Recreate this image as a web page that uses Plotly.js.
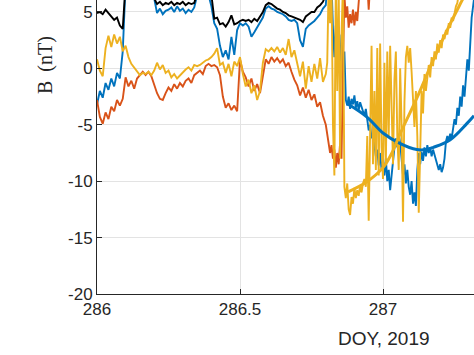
<!DOCTYPE html>
<html>
<head>
<meta charset="utf-8">
<script src="https://cdn.plot.ly/plotly-3.0.1.min.js"></script>
<style>html,body{margin:0;padding:0;background:#fff;}#plot{width:474px;height:355px;}</style>
</head>
<body>
<div id="plot"></div>
<script>
// Sampling positions (DOY): coarse grid before 286.80, finer grid after
const tA = []; for (let i = 0; i < 80; i++) tA.push(+(286 + i * 0.01).toFixed(3));
const tB = []; for (let i = 0; i < 105; i++) tB.push(+(286.8 + i * 0.005).toFixed(3));
const t = tA.concat(tB);

// Black series (|B|)
const blackA = [4.9,5.0,4.8,5.2,4.9,4.6,4.3,4.5,3.8,3.5,
  7.5,7.5,7.5,7.5,7.5,7.5,7.5,7.5,7.5,7.5,
  6.2,5.7,5.9,5.6,5.8,5.7,5.9,5.6,5.8,5.7,
  5.9,5.6,5.8,5.7,5.8,6.5,7.5,7.5,7.5,7.5,
  6.5,4.4,4.5,3.9,4.0,3.7,4.1,4.7,3.9,4.0,
  4.2,4.3,4.2,4.3,4.1,4.4,4.2,4.6,5.0,5.6,
  5.8,5.7,5.5,5.3,5.2,5.0,4.9,4.7,4.6,4.5,
  4.4,4.3,4.1,4.6,4.8,5.0,5.0,5.4,5.6,5.9];
const blackB = [6.5,7.5];

// Blue series
const blueA = [-3.2,-2.0,-2.6,-1.3,-1.9,-0.9,-1.6,-0.4,-0.9,1.5,
  7.5,7.5,7.5,7.5,7.5,7.5,7.5,7.5,7.5,7.5,
  6.2,4.9,5.3,4.8,5.1,5.2,5.4,5.0,5.5,5.1,
  5.3,4.9,5.2,5.0,5.4,6.5,7.5,7.5,7.5,6.5,
  5.5,4.0,3.5,2.0,1.0,1.6,0.8,2.8,1.2,3.4,
  4.0,3.8,4.0,3.7,2.8,3.2,3.6,4.0,4.5,5.3,
  5.5,5.3,5.2,5.0,4.9,4.8,4.6,4.3,4.2,4.3,
  4.0,2.5,1.9,3.5,3.8,4.0,4.2,4.5,4.8,5.3];
const blueB = [5.6,7.5,7.5,6.0,7.5,3.5,1.0,3.8,-0.3,2.5,
  0.5,3.0,-0.5,1.5,-2.8,-3.3,-2.5,-3.6,-2.7,-3.2,
  -2.4,-3.5,-2.9,-3.7,-3.0,-3.4,-3.8,-4.2,-3.6,-4.8,
  -5.5,-5.0,-6.2,-5.8,-7.0,-7.8,-7.2,-8.6,-7.5,-9.0,
  -8.2,-9.5,-8.0,-10.0,-9.0,-10.8,-9.5,-8.0,-7.0,-6.2,
  -7.0,-5.8,-6.6,-8.0,-9.5,-8.5,-10.2,-9.0,-10.5,-11.2,
  -10.0,-12.0,-11.0,-12.2,-9.0,-7.5,-8.5,-7.4,-8.2,-7.0,
  -7.8,-6.8,-7.5,-7.0,-7.8,-7.2,-7.6,-8.0,-8.4,-9.0,
  -8.5,-9.2,-8.8,-8.0,-6.5,-6.0,-6.4,-5.8,-6.2,-5.5,
  -4.5,-5.0,-3.5,-4.2,-2.5,-3.4,-1.5,-2.5,-0.5,0.8,
  -0.2,2.5,4.5,5.5,6.5];

// Orange series
const orangeA = [-2.8,-4.3,-4.9,-3.9,-4.5,-3.4,-3.8,-2.8,-3.3,-2.7,
  -0.8,-1.6,-1.1,-1.8,-0.9,-0.6,-0.3,-0.6,-0.3,-0.7,
  -1.5,-2.2,-2.7,-2.8,-2.2,-1.7,-2.0,-1.4,-1.8,-1.3,
  -1.6,-1.1,-0.9,-1.3,-0.6,-0.4,-0.2,-0.5,0.2,0.4,
  0.2,0.3,0.1,-0.6,-2.5,-3.5,-3.1,-3.7,-3.3,-3.8,
  0.8,-0.3,-0.8,-1.6,-0.9,-2.0,-1.4,-2.2,-0.5,0.8,
  0.4,1.0,0.6,0.9,0.5,0.8,0.2,0.5,-0.3,-1.0,
  -1.5,-2.4,-1.7,-2.6,-1.9,-2.8,-2.3,-3.4,-3.0,-4.2];
const orangeB = [-5.0,-6.0,-6.5,-7.5,-6.8,-8.0,-7.2,-8.8,-7.5,-8.5,
  -6.6,-8.0,0.0,6.5,4.5,5.5,3.6,4.8,4.0,5.2,
  3.8,5.0,4.2,6.0,7.5,7.5,7.5,7.5,7.5,7.5,5.2,7.5];

// Yellow series
const yellowA = [0.8,-0.2,-0.7,1.8,2.9,1.9,3.0,2.2,2.8,1.5,
  2.0,1.0,0.4,0.1,-0.3,-0.6,-0.4,-0.5,-0.3,-0.6,
  -0.2,0.5,-0.1,0.3,-0.4,-0.2,-0.8,-0.5,-0.9,-0.6,
  -0.4,-0.1,0.1,-0.2,0.3,0.2,0.3,0.5,0.7,0.8,
  1.0,1.3,1.8,0.3,0.5,-0.4,0.4,-0.7,0.6,0.2,
  1.0,-0.5,-1.6,-1.0,-2.2,-1.5,-2.8,-2.0,0.5,1.7,
  1.5,1.8,1.5,1.9,1.4,1.8,1.2,2.6,1.0,1.6,
  0.5,-0.7,0.6,-1.8,0.2,-1.2,0.4,-0.9,0.9,-1.2];
const yellowB = [-0.5,0.5,7.5,4.0,7.5,-5,-9.5,7.5,-2,7.5,
  -8,3,7.5,-10.5,-11.5,-10.2,-12.5,-13.0,-11.4,-12.0,
  -10.6,-11.5,-10.8,-11.3,-10.4,-11.0,-10.2,-9.8,-10.5,-6,
  -13.5,-4,2.0,-8.5,-2,-9,1.8,-9.5,2.2,-7,
  -9.8,0.5,-8.5,1.5,-6,2.0,-5,-8.5,-1,1.5,
  -6,-9,0,-5,-13.6,-3,1.0,2.0,0.5,1.8,
  -0.3,-2.5,-5.2,-2,-6,-12.8,-8,-2,-4,-0.5,
  -2,-1,0.3,-0.8,1.0,0.2,1.5,0.8,2.2,1.4,
  2.5,1.8,3.0,2.6,3.4,3.0,4.0,3.6,4.5,4.2,
  5.0,5.5,5.8,6.5,7.5,7.5,7.5,7.5,7.5,7.5,
  7.5,7.5,7.5,7.5,7.5];

// Smooth fitted curves
const fitBlueT = [286.873,286.943,287.001,287.059,287.118,287.150,287.176,287.234,287.293,287.318];
const fitBlueB = [-3.1,-4.3,-5.75,-6.65,-7.2,-7.2,-7.0,-6.35,-4.9,-4.2];
const fitYellowT = [286.878,286.941,287.000,287.031,287.059,287.119,287.175,287.234,287.276,287.290];
const fitYellowB = [-10.95,-10.1,-8.8,-7.5,-5.85,-2.6,0.7,3.9,6.0,6.7];

// Axis ticks
const xTicks = [286, 286.5, 287];
const xTickLabels = ['286', '286.5', '287'];
const yTicks = [-20, -15, -10, -5, 0, 5];
const yTickLabels = ['-20', '-15', '-10', '-5', '0', '5'];

const C = {blue:'#0072BD', orange:'#D95319', yellow:'#EDB120', black:'#000000'};

function line(x, y, color, w, shape) {
  return {x: x, y: y, type: 'scatter', mode: 'lines', hoverinfo: 'skip',
          line: {color: color, width: w, shape: shape || 'linear'}, showlegend: false};
}

const traces = [
  line(t, blueA.concat(blueB), C.blue, 1.9),
  line(t, orangeA.concat(orangeB), C.orange, 1.9),
  line(t, yellowA.concat(yellowB), C.yellow, 1.9),
  line(t, blackA.concat(blackB), C.black, 1.9),
  line(fitBlueT, fitBlueB, C.blue, 3, 'spline'),
  line(fitYellowT, fitYellowB, C.yellow, 3, 'spline')
];

const axisCommon = {
  showgrid: true, gridcolor: '#e3e3e3', gridwidth: 1, zeroline: false,
  showline: true, linecolor: '#262626', linewidth: 1,
  ticks: 'inside', ticklen: 5, tickcolor: '#262626', tickwidth: 1,
  tickfont: {family: 'Liberation Sans, Arial, sans-serif', size: 17, color: '#262626'},
  tickmode: 'array', fixedrange: true
};

const layout = {
  width: 474, height: 355,
  margin: {l: 97, r: 0, t: 0, b: 61, pad: 0},
  paper_bgcolor: '#ffffff', plot_bgcolor: '#ffffff',
  xaxis: Object.assign({}, axisCommon, {range: [286, 287.3182], tickvals: xTicks, ticktext: xTickLabels}),
  yaxis: Object.assign({}, axisCommon, {range: [-20, 6.06], tickvals: yTicks, ticktext: yTickLabels}),
  annotations: [
    {text: 'DOY, 2019', xref: 'paper', yref: 'paper', x: 0.76, y: -0.1497,
     xanchor: 'center', yanchor: 'middle', showarrow: false,
     font: {family: 'Liberation Sans, Arial, sans-serif', size: 19, color: '#262626'}},
    {text: 'B\u2009 (nT)', xref: 'paper', yref: 'paper', x: -0.135, y: 0.779,
     xanchor: 'center', yanchor: 'middle', showarrow: false, textangle: -90,
     font: {family: 'Liberation Serif, Times New Roman, serif', size: 20, color: '#262626'}}
  ]
};

Plotly.newPlot('plot', traces, layout, {staticPlot: true, displayModeBar: false});
</script>
</body>
</html>
